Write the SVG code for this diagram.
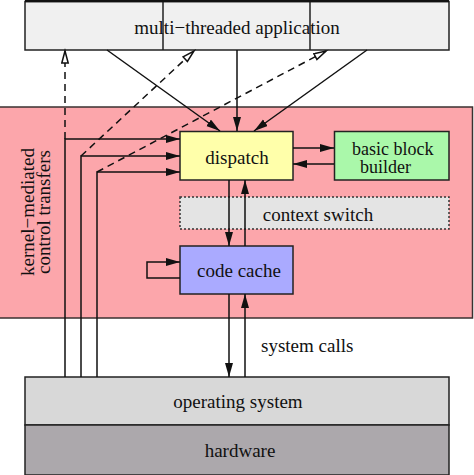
<svg xmlns="http://www.w3.org/2000/svg" width="474" height="475" viewBox="0 0 474 475">
<defs>
<style>
text{font-family:"Liberation Serif","Times New Roman",serif;font-size:19px;fill:#111}
.sm{font-size:18px}
.box{stroke:#222;stroke-width:1.5}
.ln{fill:none;stroke:#111;stroke-width:1.5}
.ds{fill:none;stroke:#111;stroke-width:1.5;stroke-dasharray:7 5}
</style>
<marker id="ah" markerUnits="userSpaceOnUse" markerWidth="16" markerHeight="10" refX="14" refY="4" orient="auto">
<path d="M0,0 L14,4 L0,8 Z" fill="#111"/>
</marker>
<marker id="oh" markerUnits="userSpaceOnUse" markerWidth="16" markerHeight="10" refX="13" refY="4" orient="auto">
<path d="M1,0.8 L13,4 L1,7.2 Z" fill="#fff" stroke="#111" stroke-width="1.5"/>
</marker>
</defs>

<g id="kernel-region">
<rect x="-2" y="107" width="474.5" height="211" fill="#fca6ab" stroke="#3a3030" stroke-width="1.5"/>
<text transform="translate(34,212) rotate(-90)" text-anchor="middle">kernel−mediated</text>
<text transform="translate(50,212) rotate(-90)" text-anchor="middle">control transfers</text>
</g>

<g id="application">
<rect class="box" x="25" y="1.5" width="424" height="48.5" fill="#f0f0f0"/>
<line x1="163" y1="1.5" x2="163" y2="50" stroke="#222" stroke-width="1.5"/>
<line x1="310" y1="1.5" x2="310" y2="50" stroke="#222" stroke-width="1.5"/>
<line x1="25" y1="1" x2="449" y2="1" stroke="#111" stroke-width="2.5"/>
<text x="237" y="34" text-anchor="middle">multi−threaded application</text>
</g>

<g id="dispatch">
<rect class="box" x="180" y="131.5" width="113" height="48.5" fill="#ffffaa"/>
<text x="237" y="164" text-anchor="middle">dispatch</text>
</g>

<g id="builder">
<rect class="box" x="334.5" y="131.5" width="114.5" height="48.5" fill="#aaf8aa"/>
<text class="sm" x="352" y="155">basic block</text>
<text class="sm" x="360" y="173">builder</text>
</g>

<g id="context-switch">
<rect x="180" y="197" width="269" height="32" fill="#e4e4e4" stroke="#333" stroke-width="1.5" stroke-dasharray="2 2"/>
<text x="318" y="221" text-anchor="middle">context switch</text>
</g>

<g id="code-cache">
<rect class="box" x="180" y="246" width="113" height="48" fill="#aaaaff"/>
<text x="239" y="277" text-anchor="middle">code cache</text>
</g>

<g id="os">
<rect class="box" x="25" y="377" width="424" height="48" fill="#d8d8d8"/>
<text x="238" y="408" text-anchor="middle">operating system</text>
</g>

<g id="hardware">
<rect class="box" x="25" y="425" width="424" height="50" fill="#aca8ac"/>
<text x="240" y="457" text-anchor="middle">hardware</text>
</g>

<text id="syscalls-label" x="261" y="352">system calls</text>

<g id="connectors">
<line class="ln" x1="107" y1="50" x2="220" y2="131" marker-end="url(#ah)"/>
<line class="ln" x1="237" y1="50" x2="237" y2="131" marker-end="url(#ah)"/>
<line class="ln" x1="367" y1="50" x2="254" y2="131" marker-end="url(#ah)"/>

<line class="ln" x1="293" y1="148" x2="334" y2="148" marker-end="url(#ah)"/>
<line class="ln" x1="334" y1="164" x2="293" y2="164" marker-end="url(#ah)"/>

<line class="ln" x1="229" y1="180" x2="229" y2="246" marker-end="url(#ah)"/>
<line class="ln" x1="245" y1="246" x2="245" y2="180" marker-end="url(#ah)"/>

<polyline class="ln" points="180,278 147,278 147,262 180,262" marker-end="url(#ah)"/>

<line class="ln" x1="229" y1="294" x2="229" y2="377" marker-end="url(#ah)"/>
<line class="ln" x1="245" y1="377" x2="245" y2="294" marker-end="url(#ah)"/>

<polyline class="ln" points="65,377 65,139 180,139" marker-end="url(#ah)"/>
<polyline class="ln" points="81,377 81,156 180,156" marker-end="url(#ah)"/>
<polyline class="ln" points="97,377 97,172 180,172" marker-end="url(#ah)"/>

<line class="ds" x1="65" y1="139" x2="65" y2="51" marker-end="url(#oh)"/>
<line class="ds" x1="81" y1="156" x2="194" y2="51" marker-end="url(#oh)"/>
<line class="ds" x1="97" y1="172" x2="326" y2="51" marker-end="url(#oh)"/>
</g>
</svg>
